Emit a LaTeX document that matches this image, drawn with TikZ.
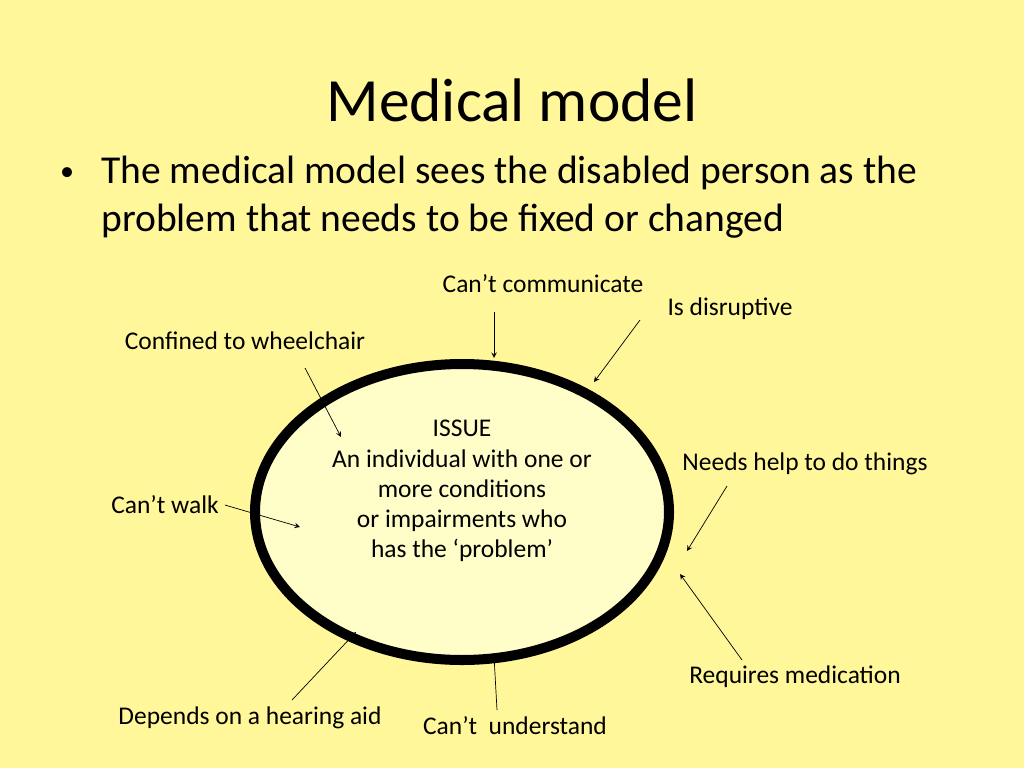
\documentclass[tikz,border=0pt]{standalone}
\usepackage{fontspec}
\setmainfont{Carlito}
\usetikzlibrary{positioning}
\definecolor{slidebg}{HTML}{FFF799}
\definecolor{issuefill}{HTML}{FFFDC8}
\begin{document}
\begin{tikzpicture}[x=0.02cm,y=-0.02cm,
    lbl/.style={font=\fontsize{14.5}{17}\selectfont},
    pointer/.style={->,>=stealth,thin}]
        % Background of the slide
        \fill[slidebg] (0,0) rectangle (1024,768);
        \useasboundingbox (0,0) rectangle (1024,768);

        % Title and bullet
        \node (title) at (512,100) {\fontsize{35}{40}\selectfont Medical model};
        \node[anchor=west] (dot) at (54,174) {\fontsize{16}{20}\selectfont\textbullet};
        \node[anchor=west, align=left, inner sep=0pt, font=\fontsize{22.5}{27}\selectfont] (bullet) at (101,197)
            {The medical model sees the disabled person as the\\
             problem that needs to be fixed or changed};

        % The individual in the middle
        \draw[line width=5.7pt, fill=issuefill] (462,512) ellipse (207 and 148);
        \node[align=center, font=\fontsize{14.5}{17.2}\selectfont] (issue) at (462,491)
            {ISSUE\\An individual with one or\\more conditions\\or impairments who\\has the ‘problem’};

        % Labels round the edge
        \node[lbl] (comm) at (543,284) {Can’t communicate};
        \node[lbl] (disr) at (730,309) {Is disruptive};
        \node[lbl] (chair) at (245,341) {Confined to wheelchair};
        \node[lbl] (help) at (805,464) {Needs help to do things};
        \node[lbl] (walk) at (165,505) {Can’t walk};
        \node[lbl] (meds) at (795,677) {Requires medication};
        \node[lbl] (hear) at (250,718) {Depends on a hearing aid};
        \node[lbl] (under) at (515,726) {Can’t\ \ understand};

        % Ends of the arrows
        \coordinate (c1) at (494,358);
        \coordinate (c2) at (594,382);
        \coordinate (c3) at (341,437);
        \coordinate (c4) at (687,551);
        \coordinate (c5) at (300,527);
        \coordinate (c6) at (680,574);
        \coordinate (c7) at (356,632);
        \coordinate (c8) at (494,656);

        \draw[pointer] (494,312) -- (c1);
        \draw[pointer] (640,320) -- (c2);
        \draw[pointer] (305,368) -- (c3);
        \draw[pointer] (727,486) -- (c4);
        \draw[pointer] (walk.east) -- (c5);
        \draw[pointer] (742,660) -- (c6);
        \draw[pointer] (292,700) -- (c7);
        \draw[pointer] (497,710) -- (c8);
    \end{tikzpicture}
\end{document}
